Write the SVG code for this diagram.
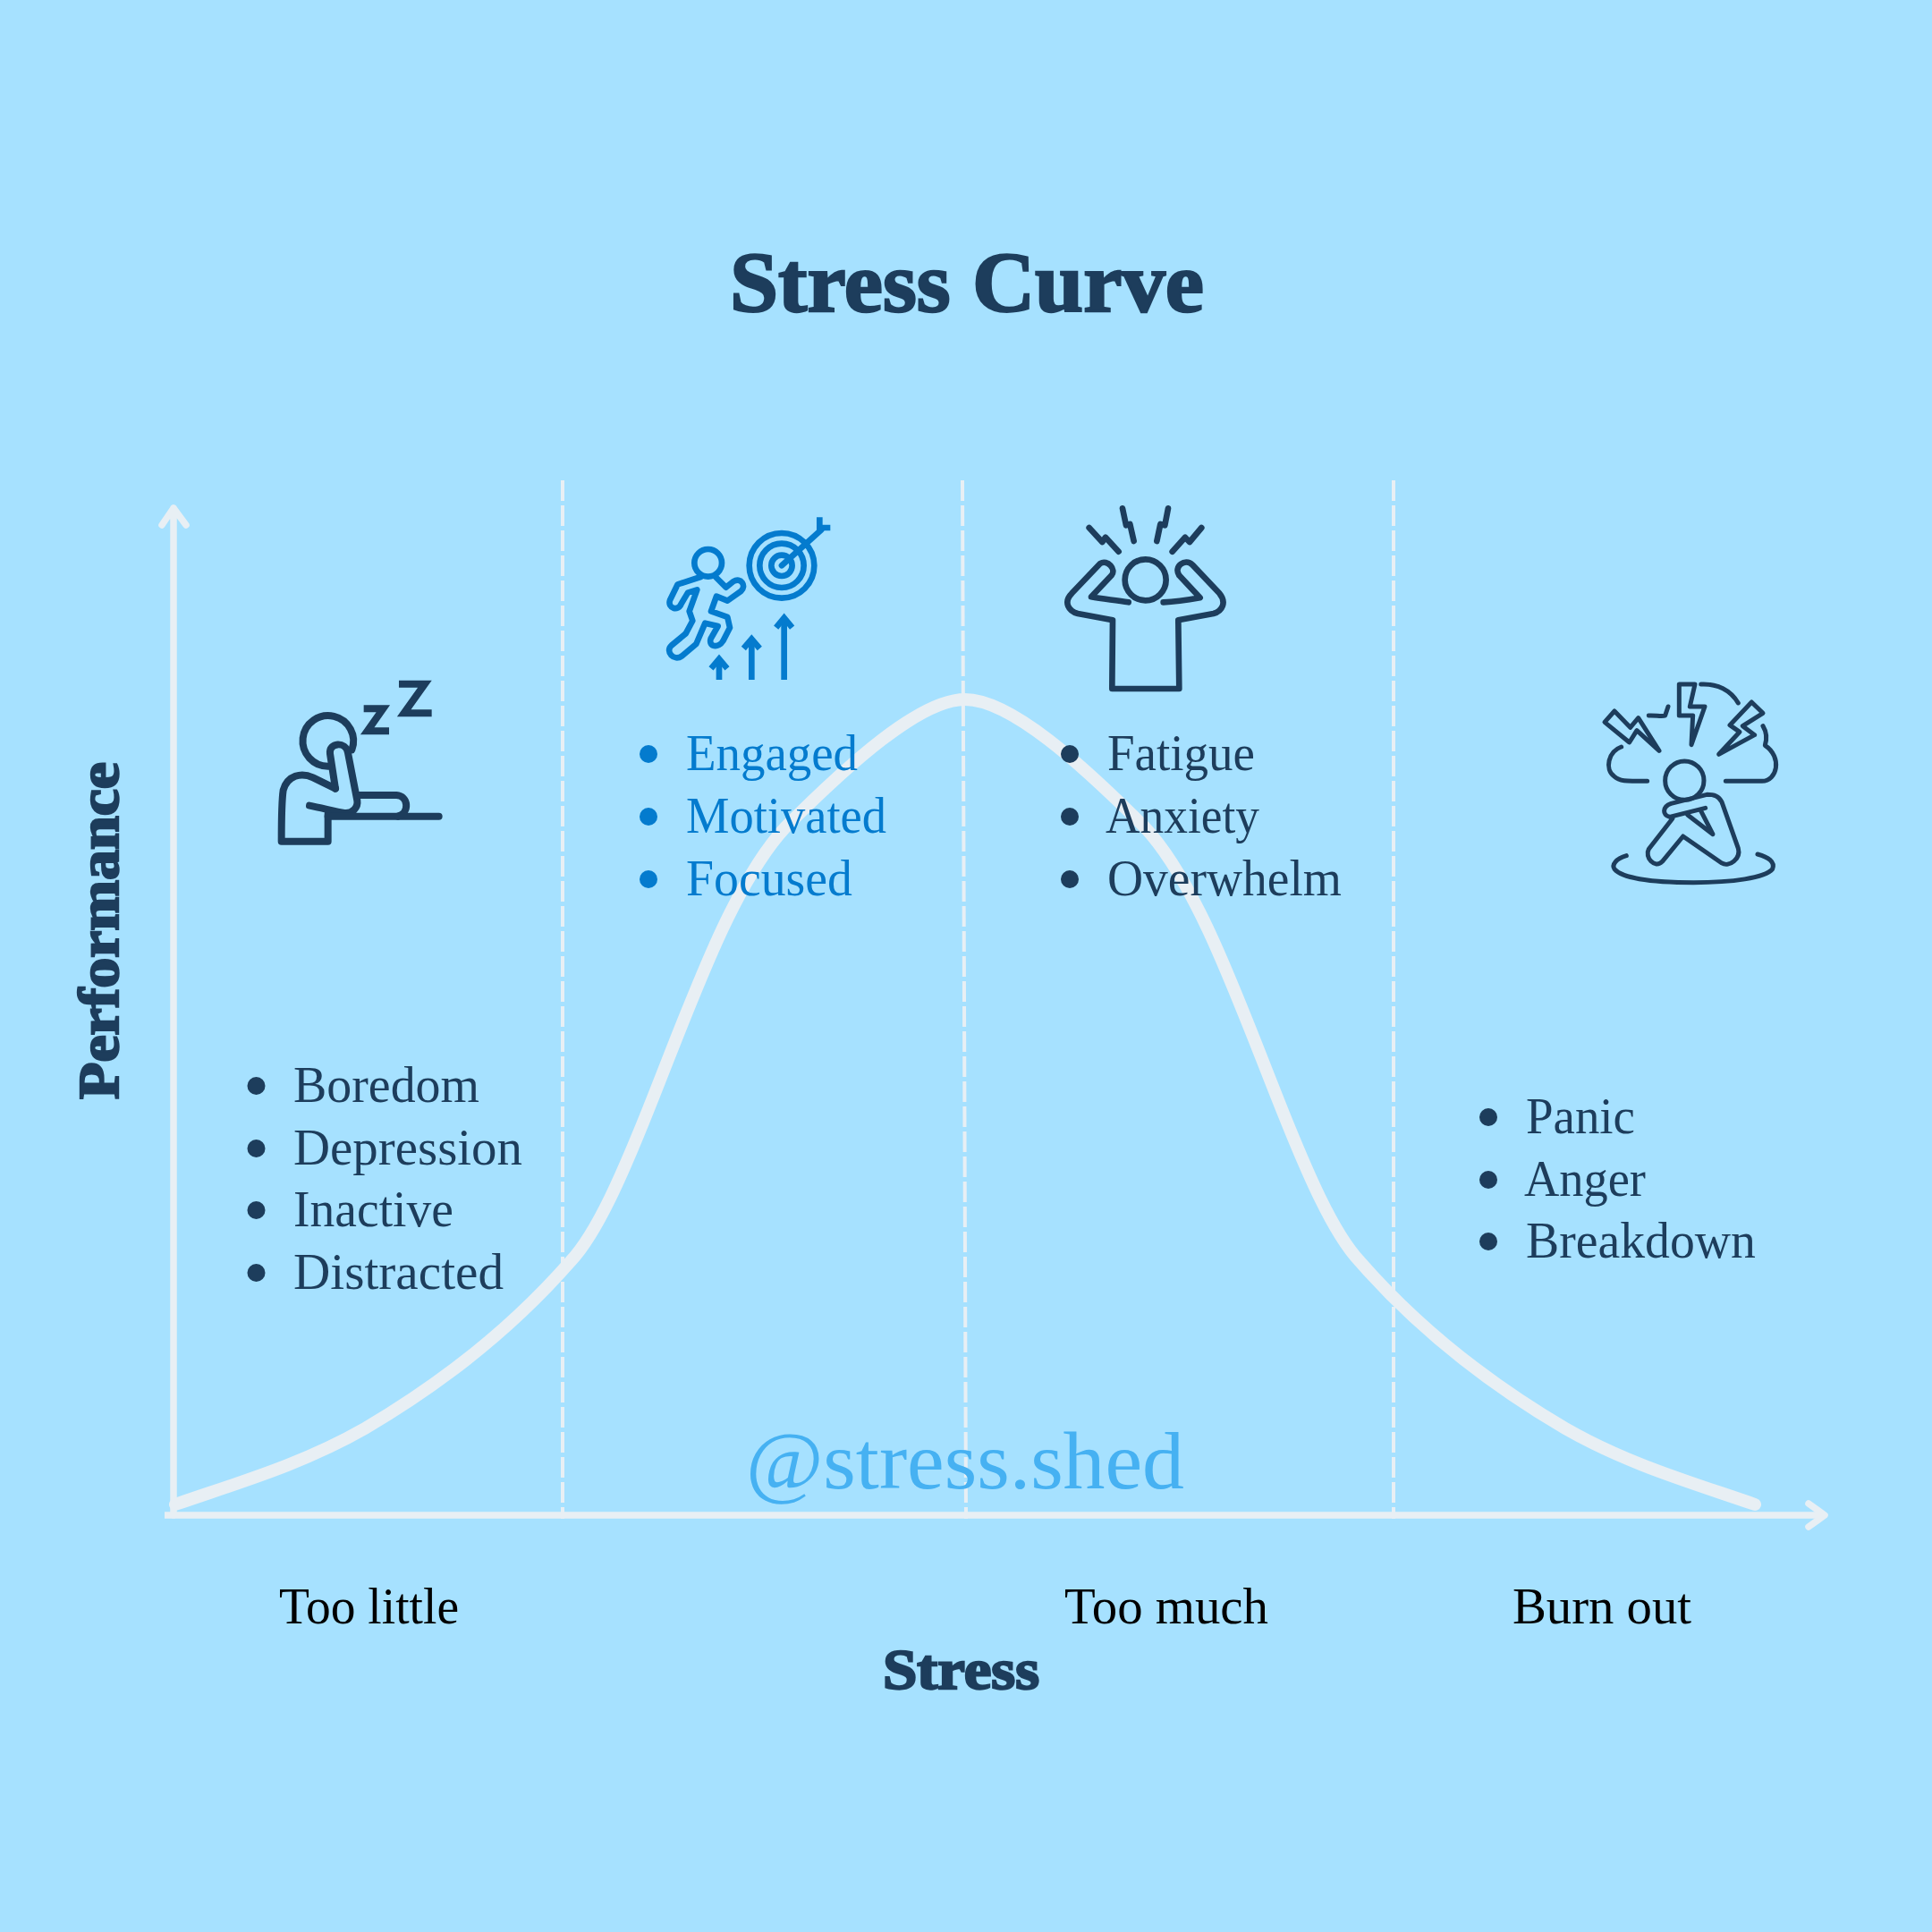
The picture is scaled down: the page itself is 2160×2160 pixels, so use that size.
<svg xmlns="http://www.w3.org/2000/svg" width="2160" height="2160" viewBox="0 0 2160 2160">
<style>
.ax{fill:none;stroke:#E8EFF4;stroke-width:7.5;stroke-linecap:round;stroke-linejoin:round}
.dash{fill:none;stroke:#E8EFF4;stroke-width:4;stroke-dasharray:23 5}
.curve{fill:none;stroke:#E8EFF4;stroke-width:14;stroke-linecap:round}
text{font-family:"Liberation Serif","Times New Roman",serif}
.h{font-weight:700;fill:#1D3D5C;stroke:#1D3D5C;stroke-width:2.4}
.b{font-size:56px;fill:#1D3D5C}
.e{font-size:56px;fill:#047BCE}
.k{font-size:56px;fill:#000}
.nb{fill:#1D3D5C}
.bb{fill:#047BCE}
.i{fill:none;stroke-linecap:round;stroke-linejoin:round}
</style>
<rect width="2160" height="2160" fill="#A6E1FF"/>
<g id="connectors">
<path class="dash" d="M629,537V1698"/>
<path class="dash" d="M1076,537L1080,1698"/>
<path class="dash" d="M1558,537V1698"/>
<path class="ax" d="M194,1694V568M181,587L194,568L208,587" style="stroke-linecap:round"/>
<path class="ax" style="stroke-linecap:butt" d="M184,1694H2036"/>
<path class="ax" d="M2022,1681L2040,1694L2022,1707"/>
<path class="curve" d="M196,1682C268,1657 338,1637 408,1597C488,1550 568,1490 638,1410C668,1378 697,1310 725,1240C773,1120 818,990 878,925C948,855 1028,782 1079,782C1130,782 1210,855 1280,925C1340,990 1385,1120 1433,1240C1461,1310 1490,1378 1520,1410C1590,1490 1670,1550 1750,1597C1820,1637 1890,1657 1962,1682"/>
</g>
<g id="title"><text class="h" x="816" y="348" font-size="95" textLength="530" lengthAdjust="spacingAndGlyphs">Stress Curve</text></g>
<g id="axis-labels">
<text class="h" x="987" y="1888" font-size="64" textLength="175" lengthAdjust="spacingAndGlyphs">Stress</text>
<text class="h" transform="translate(132,1229) rotate(-90)" font-size="64" textLength="377" lengthAdjust="spacingAndGlyphs">Performance</text>
</g>
<g id="watermark"><text x="834" y="1664" font-size="92" fill="#46B1F2" textLength="490" lengthAdjust="spacingAndGlyphs">@stress.shed</text></g>
<g id="zone-too-little">
<g transform="translate(280,730) scale(.3333)" class="i" stroke="#1D3D5C" stroke-width="24">
<path d="M262,380A85,85 0 1 1 340,325"/>
<path d="M285,455L267,338C262,300 320,295 327,335L358,495C362,520 340,540 315,537C290,534 240,520 198,512"/>
<path d="M285,455L210,418C170,400 125,410 110,460C104,500 104,560 104,632L260,632L260,540"/>
<path d="M260,548L632,548"/>
<path d="M360,477L490,477C530,480 535,535 495,548"/>
<path style="stroke-linecap:butt;stroke-linejoin:miter" d="M380,187L445,187L392,262L465,262"/>
<path style="stroke-linecap:butt;stroke-linejoin:miter" d="M498,104L585,104L515,202L608,202"/>
</g>
<circle class="nb" cx="286.500" cy="1214" r="10"/><circle class="nb" cx="286.500" cy="1284" r="10"/><circle class="nb" cx="286.500" cy="1353" r="10"/><circle class="nb" cx="286.500" cy="1423" r="10"/>
<text class="b" x="328" y="1232" textLength="208" lengthAdjust="spacingAndGlyphs">Boredom</text>
<text class="b" x="328" y="1302" textLength="256" lengthAdjust="spacingAndGlyphs">Depression</text>
<text class="b" x="328" y="1371" textLength="179" lengthAdjust="spacingAndGlyphs">Inactive</text>
<text class="b" x="328" y="1441" textLength="235" lengthAdjust="spacingAndGlyphs">Distracted</text>
<text class="k" x="312" y="1815" textLength="201" lengthAdjust="spacingAndGlyphs">Too little</text>
</g>
<g id="zone-engaged">
<g transform="translate(720,560) scale(.3333)" class="i" stroke="#047BCE" stroke-width="20">
<circle cx="215" cy="208" r="46"/>
<path d="M190,255L113,280L87,333C78,360 115,372 125,345L147,308L178,298L152,370L163,402L140,445L92,485C70,505 100,540 128,520L175,480L205,410L248,420L224,462C215,490 250,495 265,470L288,425L280,390L225,370L243,320L280,335L325,303C345,285 325,255 300,270L275,290L240,255"/>
<circle cx="462" cy="217" r="109"/><circle cx="462" cy="217" r="74"/><circle cx="462" cy="217" r="35"/>
<path d="M462,217L595,97"/>
<path style="stroke-linecap:butt;stroke-linejoin:miter" d="M589,55V90H625"/>
<path style="stroke-linecap:butt" d="M252,600V540M361,600V470M470,600V395"/>
<path style="stroke-linecap:butt;stroke-linejoin:miter" d="M225,562L252,530L279,562M334,495L361,463L388,495M443,425L470,392L497,425"/>
</g>
<circle class="bb" cx="725" cy="843" r="10"/><circle class="bb" cx="725" cy="913" r="10"/><circle class="bb" cx="725" cy="983" r="10"/>
<text class="e" x="767" y="861" textLength="192" lengthAdjust="spacingAndGlyphs">Engaged</text>
<text class="e" x="767" y="931" textLength="224" lengthAdjust="spacingAndGlyphs">Motivated</text>
<text class="e" x="767" y="1001" textLength="186" lengthAdjust="spacingAndGlyphs">Focused</text>
</g>
<g id="zone-too-much">
<g transform="translate(1170,550) scale(.3333)" class="i" stroke="#1D3D5C" stroke-width="20">
<circle cx="332" cy="295" r="69"/>
<path d="M275,370C230,362 190,360 150,352L218,280C235,260 205,225 180,240L85,340C55,370 75,400 105,408L222,430L220,660L445,660L442,430L560,408C590,400 605,370 580,340L490,245C465,220 425,250 445,280L515,355C475,362 440,368 392,370"/>
<path d="M143,120L187,168L198,152L242,200M255,55L267,112L280,108L293,165M408,55L397,112L382,108L370,165M520,120L480,168L465,152L422,200"/>
</g>
<circle class="nb" cx="1196" cy="843" r="10"/><circle class="nb" cx="1196" cy="913" r="10"/><circle class="nb" cx="1196" cy="983" r="10"/>
<text class="b" x="1238" y="861" textLength="165" lengthAdjust="spacingAndGlyphs">Fatigue</text>
<text class="b" x="1236" y="931" textLength="172" lengthAdjust="spacingAndGlyphs">Anxiety</text>
<text class="b" x="1238" y="1001" textLength="262" lengthAdjust="spacingAndGlyphs">Overwhelm</text>
<text class="k" x="1190" y="1815" textLength="228" lengthAdjust="spacingAndGlyphs">Too much</text>
</g>
<g id="zone-burn-out">
<g transform="translate(1770,750) scale(.3333)" class="i" stroke="#1D3D5C" stroke-width="15">
<circle cx="340" cy="368" r="65"/>
<path d="M72,172L105,135L158,190L185,158L255,268L180,200L155,240Z"/>
<path d="M322,45H375L358,120H408L363,248L368,150H322Z"/>
<path d="M565,105L603,142L535,185L575,215L455,280L525,205L492,182Z"/>
<path d="M128,255C85,270 70,330 105,355C120,370 140,370 215,370"/>
<path d="M478,370H600C650,370 670,290 610,250C618,225 615,205 603,185"/>
<path d="M395,45C450,42 495,65 520,108"/>
<path d="M220,150C240,148 265,155 275,150L285,120"/>
<path d="M300,495L220,598C205,625 240,665 265,640L335,555L465,645C490,660 530,630 520,595L465,440C455,420 440,415 415,415L295,445C265,455 265,485 290,490L410,460"/>
<path d="M350,483L435,548L395,470"/>
<path d="M145,620C110,630 95,650 105,665C130,695 230,710 370,710C500,710 610,695 635,665C645,640 620,625 585,615"/>
</g>
<circle class="nb" cx="1664" cy="1249" r="10"/><circle class="nb" cx="1664" cy="1319" r="10"/><circle class="nb" cx="1664" cy="1388" r="10"/>
<text class="b" x="1706" y="1267" textLength="122" lengthAdjust="spacingAndGlyphs">Panic</text>
<text class="b" x="1704" y="1337" textLength="136" lengthAdjust="spacingAndGlyphs">Anger</text>
<text class="b" x="1706" y="1406" textLength="257" lengthAdjust="spacingAndGlyphs">Breakdown</text>
<text class="k" x="1691" y="1815" textLength="200" lengthAdjust="spacingAndGlyphs">Burn out</text>
</g>
</svg>
